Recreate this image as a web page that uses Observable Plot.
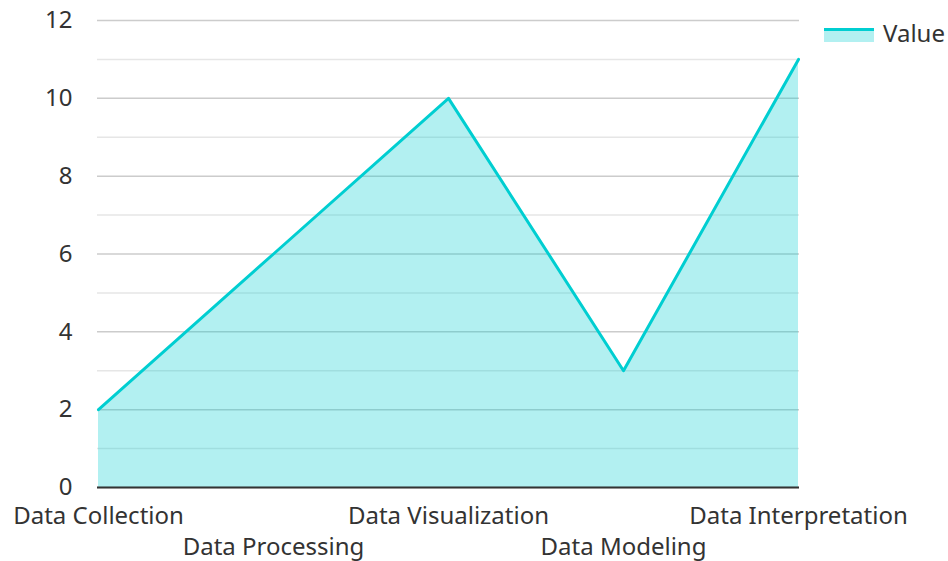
<!DOCTYPE html>
<html>
<head>
<meta charset="utf-8">
<script src="https://cdn.jsdelivr.net/npm/d3@7"></script>
<script src="https://cdn.jsdelivr.net/npm/@observablehq/plot@0.6"></script>
<style>
  html, body { margin: 0; padding: 0; background: #fff; }
  #wrap { position: relative; width: 948px; height: 561px; font-family: "Noto Sans", sans-serif; }
  #wrap svg text { font-size: 24px !important; font-family: "Noto Sans", sans-serif; }
  #legend { position: absolute; left: 824px; top: 16px; display: flex; align-items: center; font-size: 24px; line-height: 33px; color: #333; }
  #legend .sw { width: 50px; height: 14px; position: relative; margin-right: 9px; margin-top: 4px; background: rgba(0,206,209,0.3); }
  #legend .sw::before { content: ""; position: absolute; left: 0; right: 0; top: 0; height: 3px; background: #00CED1; }
</style>
</head>
<body>
<div id="wrap"><div id="legend"><div class="sw"></div><span>Value</span></div></div>
<script>
const categories = ["Data Collection", "Data Processing", "Data Visualization", "Data Modeling", "Data Interpretation"];
const values = [2, 6, 10, 3, 11];
const majorTicks = [0, 2, 4, 6, 8, 10, 12];
const minorTicks = [1, 3, 5, 7, 9, 11];

const data = categories.map((c, i) => ({category: c, value: values[i]}));
const evenCats = categories.filter((c, i) => i % 2 === 0);
const oddCats = categories.filter((c, i) => i % 2 === 1);

const chart = Plot.plot({
  width: 948,
  height: 561,
  marginLeft: 97,
  marginRight: 149,
  marginTop: 20,
  marginBottom: 74,
  style: {fontFamily: "'Noto Sans', sans-serif", fontSize: "24px", color: "#333", background: "transparent"},
  x: {type: "point", domain: categories, padding: 0},
  y: {domain: [0, 12]},
  marks: [
    Plot.gridY(minorTicks, {stroke: "#e6e6e6", strokeOpacity: 1, strokeWidth: 1.5}),
    Plot.gridY(majorTicks, {stroke: "#cccccc", strokeOpacity: 1, strokeWidth: 1.5}),
    Plot.areaY(data, {x: "category", y: "value", fill: "#00CED1", fillOpacity: 0.3}),
    Plot.lineY(data, {x: "category", y: "value", stroke: "#00CED1", strokeWidth: 3}),
    Plot.ruleY([0], {stroke: "#333", strokeWidth: 2}),
    Plot.axisY(majorTicks, {tickSize: 0, tickPadding: 25, fontSize: 24, fill: "#333", label: null}),
    Plot.axisX(evenCats, {tickSize: 0, tickPadding: 19, fontSize: 24, fill: "#333", label: null}),
    Plot.axisX(oddCats, {tickSize: 0, tickPadding: 50, fontSize: 24, fill: "#333", label: null})
  ]
});
document.getElementById("wrap").prepend(chart);
</script>
</body>
</html>
